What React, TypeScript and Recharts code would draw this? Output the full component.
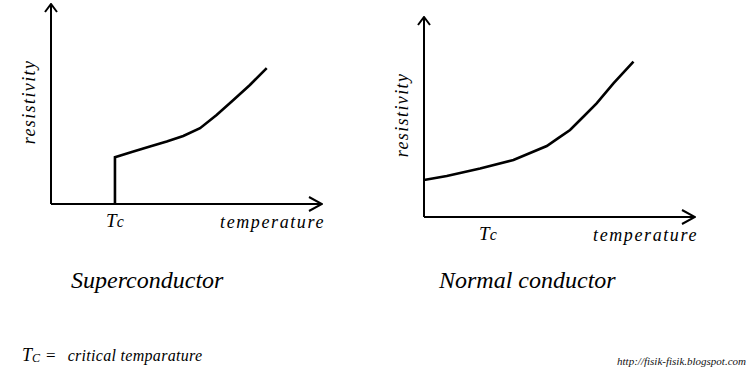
import React from 'react';
import { LineChart, Line, XAxis, YAxis } from 'recharts';

// temperature runs 0..100 along each x axis, resistivity 0..100 up each y axis
const TC = 23.6;
const tcTicks = [TC];

const superTemp = [TC, TC, 30.4, 36.5, 42.7, 48.8, 55, 61.1, 67.3, 73.4, 79.6];
const superRho = [0, 23.4, 26.2, 28.7, 31.2, 34, 37.9, 44.5, 52, 59.5, 67.9];

const normalTemp = [0, 8.4, 20.7, 33, 45.3, 49.4, 53.9, 58.7, 63.7, 69.9, 77.3];
const normalRho = [18.5, 20.5, 24.3, 28.5, 35.5, 39.3, 43.5, 50, 56.8, 66.8, 77.7];

const SERIF = '"Liberation Serif", "DejaVu Serif", serif';

const TcTick = (props: any) => (
  <text x={props.x} y={props.y + 23} textAnchor="middle" fontFamily={SERIF} fontStyle="italic" fill="#000">
    <tspan fontSize={19}>T</tspan>
    <tspan fontSize={16}>c</tspan>
  </text>
);

const TempLabel = (props: any) => {
  const vb = props.viewBox;
  return (
    <text x={vb.x + vb.width + 3} y={vb.y + 24} textAnchor="end" fontFamily={SERIF} fontStyle="italic" fontSize={18} letterSpacing={1.6} fill="#000">
      temperature
    </text>
  );
};

const RhoLabel = (props: any) => {
  const vb = props.viewBox;
  const cx = vb.x + vb.width - 16;
  const cy = vb.y + 98;
  return (
    <text x={cx} y={cy} transform={`rotate(-90 ${cx} ${cy})`} textAnchor="middle" fontFamily={SERIF} fontStyle="italic" fontSize={18} letterSpacing={1.4} fill="#000">
      resistivity
    </text>
  );
};

interface ConductorChartProps {
  temps: number[];
  rhos: number[];
  left: number;
  top: number;
}

const ConductorChart: React.FC<ConductorChartProps> = ({ temps, rhos, left, top }) => {
  const data = temps.map((t, i) => ({ t, rho: rhos[i] }));
  return (
    <div style={{ position: 'absolute', left, top }}>
      <LineChart width={340} height={250} data={data} margin={{ top: 4, right: 18, bottom: 45, left: 50 }}>
        <XAxis
          dataKey="t"
          type="number"
          domain={[0, 100]}
          ticks={tcTicks}
          height={1}
          tickSize={0}
          tickMargin={0}
          tickLine={false}
          tick={TcTick}
          axisLine={{ stroke: '#000', strokeWidth: 2, markerEnd: 'url(#arrowRight)' }}
          label={{ content: TempLabel }}
        />
        <YAxis
          type="number"
          domain={[0, 100]}
          width={1}
          tick={false}
          tickLine={false}
          axisLine={{ stroke: '#000', strokeWidth: 2, markerStart: 'url(#arrowUp)' }}
          label={{ content: RhoLabel }}
        />
        <Line type="linear" dataKey="rho" stroke="#000" strokeWidth={2.6} dot={false} isAnimationActive={false} />
      </LineChart>
    </div>
  );
};

export default function App() {
  return (
    <div style={{ position: 'absolute', left: 0, top: 0, width: 747, height: 372, background: '#fff', overflow: 'hidden' }}>
      <svg width={0} height={0} style={{ position: 'absolute' }}>
        <defs>
          <marker id="arrowUp" viewBox="0 0 10 14" refX={9} refY={7} markerWidth={10} markerHeight={14} markerUnits="userSpaceOnUse" orient="auto-start-reverse">
            <path d="M1,1 L9,7 L1,13" fill="none" stroke="#000" strokeWidth={2} />
          </marker>
          <marker id="arrowRight" viewBox="0 0 15 16" refX={14} refY={8} markerWidth={15} markerHeight={16} markerUnits="userSpaceOnUse" orient="auto">
            <path d="M1,1 L14,8 L1,15" fill="none" stroke="#000" strokeWidth={2} />
          </marker>
        </defs>
      </svg>
      <ConductorChart temps={superTemp} rhos={superRho} left={0} top={0} />
      <ConductorChart temps={normalTemp} rhos={normalRho} left={373} top={13} />
      <svg width={747} height={372} style={{ position: 'absolute', left: 0, top: 0, pointerEvents: 'none' }}>
        <text x={71} y={288} fontFamily={SERIF} fontStyle="italic" fontSize={24} fill="#000">Superconductor</text>
        <text x={439} y={288} fontFamily={SERIF} fontStyle="italic" fontSize={24} fill="#000">Normal conductor</text>
        <text x={22} y={361} fontFamily={SERIF} fontStyle="italic" fill="#000">
          <tspan fontSize={18}>T</tspan>
          <tspan fontSize={12} dy={1}>C</tspan>
          <tspan fontSize={17} dy={-1} fontStyle="normal" dx={6}>=</tspan>
          <tspan fontSize={16} dx={12} letterSpacing={0.3}>critical temparature</tspan>
        </text>
        <text x={746} y={365} textAnchor="end" fontFamily={SERIF} fontStyle="italic" fontSize={11} fill="#111">http://fisik-fisik.blogspot.com</text>
      </svg>
    </div>
  );
}
